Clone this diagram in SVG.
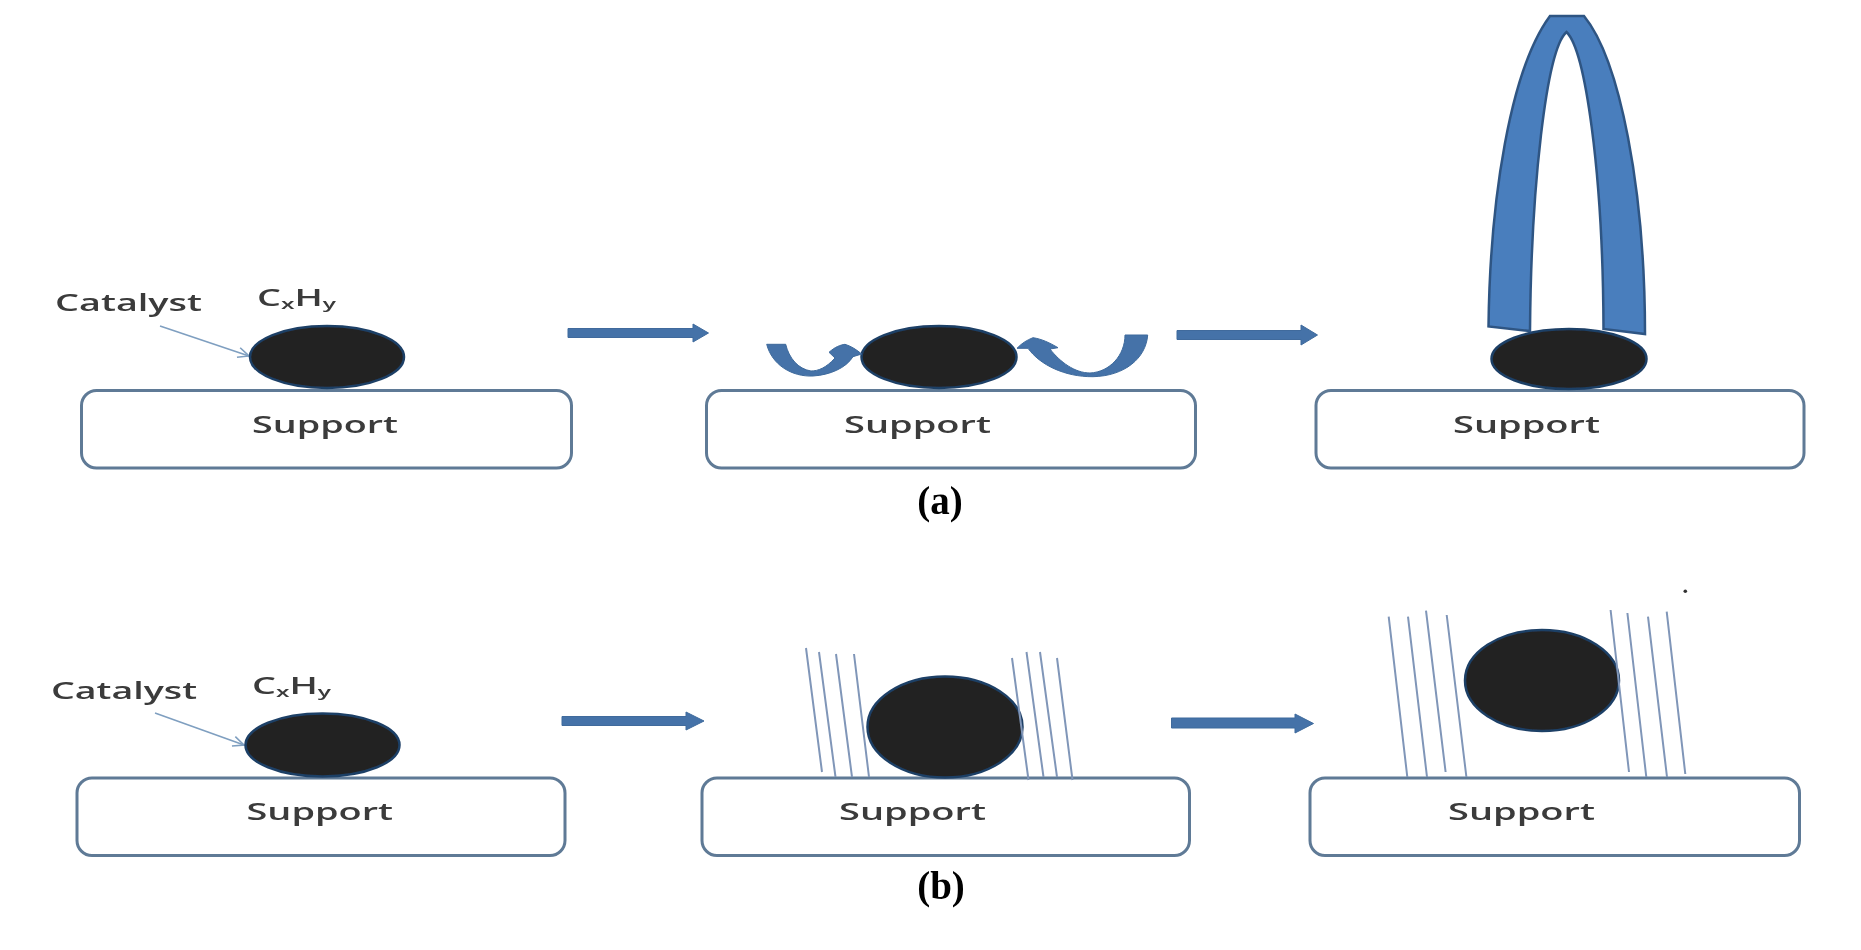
<svg xmlns="http://www.w3.org/2000/svg" width="1861" height="950" viewBox="0 0 1861 950">
<style>
.support{fill:#fff;stroke:#5f7a96;stroke-width:3}
.cat{fill:#232323;stroke:#1f3f66;stroke-width:2.5}
.lbl{font-family:"Open Sans","Liberation Sans",sans-serif;font-size:23px;font-weight:600;fill:#3a3a3a}
.sub{font-size:15px}
.cap{font-family:"Liberation Serif",serif;font-weight:bold;font-size:39px;fill:#000}
.block{fill:#4472a8;stroke:#3f6a9c;stroke-width:1}
.thin{fill:none;stroke:#7f9fc0;stroke-width:1.6}
.tube{stroke:#8096b8;stroke-width:2;fill:none}
.grow{fill:#4a7ebd;stroke:#2f5583;stroke-width:2.5}
</style>
<defs>
<filter id="soft" x="-2%" y="-2%" width="104%" height="104%"><feGaussianBlur stdDeviation="0.7"/></filter>
<marker id="open" markerWidth="14" markerHeight="12" refX="12" refY="6" orient="auto" markerUnits="userSpaceOnUse"><path d="M1,1 L12,6 L1,11" fill="none" stroke="#7f9fc0" stroke-width="1.6"/></marker>
</defs>
<rect width="1861" height="950" fill="#fff"/>
<g filter="url(#soft)">
<g id="connectors">
<path class="block" d="M568,328.500H693V324L708.500,333L693,342V337.500H568Z"/>
<path class="block" d="M1177,330.500H1301V325L1317.500,335L1301,345V339.500H1177Z"/>
<path class="block" d="M562,716.500H686V712L704,721L686,730V725.500H562Z"/>
<path class="block" d="M1171.500,718H1295V714L1313.500,723.500L1295,733V728H1171.500Z"/>
<path class="thin" marker-end="url(#open)" d="M160,326L249,356"/>
<path class="thin" marker-end="url(#open)" d="M155,713L244,745"/>
</g>
<g id="support-a1"><rect class="support" x="81.500" y="390.500" width="490" height="77.500" rx="15"/><text class="lbl" x="252" y="433" textLength="146" lengthAdjust="spacingAndGlyphs">Support</text></g>
<g id="support-a2"><rect class="support" x="706.500" y="390.500" width="489" height="77.500" rx="15"/><text class="lbl" x="844" y="433" textLength="147" lengthAdjust="spacingAndGlyphs">Support</text></g>
<g id="support-a3"><rect class="support" x="1316" y="390.500" width="488" height="77.500" rx="15"/><text class="lbl" x="1453" y="433" textLength="147" lengthAdjust="spacingAndGlyphs">Support</text></g>
<g id="support-b1"><rect class="support" x="77" y="778" width="488" height="77.500" rx="15"/><text class="lbl" x="246.500" y="820" textLength="146.500" lengthAdjust="spacingAndGlyphs">Support</text></g>
<g id="support-b2"><rect class="support" x="702" y="778" width="487.500" height="77.500" rx="15"/><text class="lbl" x="839" y="820" textLength="147" lengthAdjust="spacingAndGlyphs">Support</text></g>
<g id="support-b3"><rect class="support" x="1310" y="778" width="489.500" height="77.500" rx="15"/><text class="lbl" x="1448" y="820" textLength="147" lengthAdjust="spacingAndGlyphs">Support</text></g>
<g id="catalyst-a1"><ellipse class="cat" cx="327" cy="357" rx="77" ry="31"/></g>
<g id="catalyst-a2"><ellipse class="cat" cx="939" cy="357" rx="77.500" ry="31"/></g>
<g id="catalyst-a3"><ellipse class="cat" cx="1569" cy="359" rx="77.500" ry="30"/></g>
<g id="catalyst-b1"><ellipse class="cat" cx="322.500" cy="745" rx="77" ry="31.500"/></g>
<g id="catalyst-b2"><ellipse class="cat" cx="945" cy="727" rx="77.500" ry="50.500"/></g>
<g id="catalyst-b3"><ellipse class="cat" cx="1542" cy="680.500" rx="77" ry="50.500"/></g>
<g id="label-a"><text class="lbl" x="55" y="311" textLength="147" lengthAdjust="spacingAndGlyphs">Catalyst</text><text class="lbl" x="257" y="306" textLength="79" lengthAdjust="spacingAndGlyphs">C<tspan class="sub" dy="3">x</tspan><tspan dy="-3">H</tspan><tspan class="sub" dy="3">y</tspan></text></g>
<g id="label-b"><text class="lbl" x="51" y="699" textLength="146" lengthAdjust="spacingAndGlyphs">Catalyst</text><text class="lbl" x="252" y="694" textLength="79" lengthAdjust="spacingAndGlyphs">C<tspan class="sub" dy="3">x</tspan><tspan dy="-3">H</tspan><tspan class="sub" dy="3">y</tspan></text></g>
<g id="curl-left"><path class="block" d="M766.700,344.300C772,365 792,377 813,376C830,375 846,368 853,356.700L861.700,354C857,350 851,346 845,344.300C840,345 835,347 829,352.300L835,358C826,368 818,371 811,371C798,369 789,358 785.700,344.300Z"/></g>
<g id="curl-right"><path class="block" d="M1147.700,335C1146,358 1125,376 1093,376.700C1065,377 1040,365 1028,348.300L1017,348.300C1022,343 1027,340 1033,337.700C1042,339 1050,343 1058,347.700L1050,349C1060,362 1075,373 1090,373C1110,372 1125,355 1125,335Z"/></g>
<g id="nanotube-a"><path class="grow" d="M1488.500,326.500C1490,200 1510,70 1550,16H1584C1620,60 1645,190 1645,334L1603.500,329C1603,170 1585,50 1566.500,32C1546,50 1531,190 1530,331Z"/></g>
<g id="tubes-b2">
<path class="tube" d="M806,648L822,772M819,652L835.500,777M836,654L852,777M854,654L869,777M1012,658L1028.500,780M1026.500,652L1043.500,777M1040,652L1057,777M1057,658L1072.500,780"/>
</g>
<g id="tubes-b3">
<path class="tube" d="M1388.700,616.700L1407.300,777M1408,616.700L1427,777M1426,610.700L1445.600,772M1446.700,615L1466.400,777M1610.600,610L1629,772M1627.400,613L1646.300,777M1648,616.700L1667,777M1666.700,611.700L1685.300,774"/>
</g>
<circle id="speck" cx="1685.300" cy="591.300" r="1.800" fill="#333"/>
<g id="captions"><text class="cap" x="940" y="514" text-anchor="middle">(a)</text><text class="cap" x="941" y="899" text-anchor="middle">(b)</text></g>
</g>
</svg>
